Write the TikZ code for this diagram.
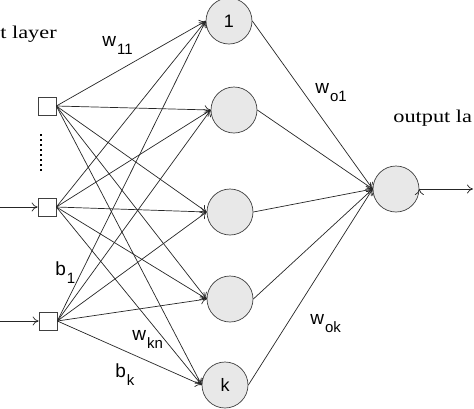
\documentclass[tikz,border=0pt]{standalone}
\usepackage{fontspec}
\setmainfont{Liberation Serif}
\setsansfont{Liberation Sans}
\newfontfamily\layerfont[FakeStretch=1.24]{Liberation Serif}
\usetikzlibrary{positioning,arrows.meta}

\newcommand{\wsub}[2]{#1\hspace{1pt}\raisebox{-8pt}{\fontsize{15}{15}\selectfont #2}}

\begin{document}
\begin{tikzpicture}[x=1pt, y=-1pt, >={To[length=6pt, width=9pt]}, line width=0.7pt,
	neuron/.style={circle, draw=black!75, fill=gray!18, minimum size=46pt, inner sep=0pt, font=\sffamily\fontsize{18}{18}\selectfont},
	inbox/.style={rectangle, draw=black!75, fill=white, minimum size=18pt, inner sep=0pt},
	weight/.style={anchor=base west, inner sep=0pt, font=\sffamily\fontsize{19}{19}\selectfont},
	layer/.style={anchor=base west, inner sep=0pt, font=\layerfont\fontsize{18}{18}\selectfont}]
	\useasboundingbox (0,0) rectangle (474,408);

	% input layer
	\node[inbox] (in1) at (47,106) {};
	\node[inbox] (in2) at (47,207) {};
	\node[inbox] (in3) at (48,321) {};
	\coordinate (x2) at (0,207);
	\coordinate (x3) at (0,321);
	\draw[line width=1.3pt, dash pattern=on 2pt off 3pt] (41,134) -- (41,171);

	% hidden layer
	\node[neuron] (h1) at (229,21) {1};
	\node[neuron] (h2) at (234,110) {};
	\node[neuron] (h3) at (230,212) {};
	\node[neuron] (h4) at (230,299) {};
	\node[neuron] (h5) at (225,385) {k};

	% output layer
	\node[neuron] (out) at (396,189) {};
	\coordinate (y) at (473,189);

	\path[->, draw=black!85]
		(x2) edge (in2.west)
		(x3) edge (in3.west)
		(in1.east) edge (h1.west)
			edge (h2.west)
			edge (h3.west)
			edge (h4.west)
			edge (h5.west)
		(in2.east) edge (h1.west)
			edge (h2.west)
			edge (h3.west)
			edge (h4.west)
			edge (h5.west)
		(in3.east) edge (h1.west)
			edge (h2.west)
			edge (h3.west)
			edge (h4.west)
			edge (h5.west)
		(h1.east) edge (out.west)
		(h2.east) edge (out.west)
		(h3.east) edge (out.west)
		(h4.east) edge (out.west)
		(h5.east) edge (out.west)
		(out.east) edge (y);

	% labels
	\node[layer] (lin) at (0,38) {t layer};
	\node[layer] (lout) at (393,122) {output la};
	\node[weight] (w11) at (102,46) {\wsub{w}{11}};
	\node[weight] (wo1) at (315,93) {\wsub{w}{o1}};
	\node[weight] (b1) at (55,275) {\wsub{b}{1}};
	\node[weight] (wkn) at (132,340) {\wsub{w}{kn}};
	\node[weight] (bk) at (115,377) {\wsub{b}{k}};
	\node[weight] (wok) at (310,324) {\wsub{w}{ok}};
\end{tikzpicture}
\end{document}
